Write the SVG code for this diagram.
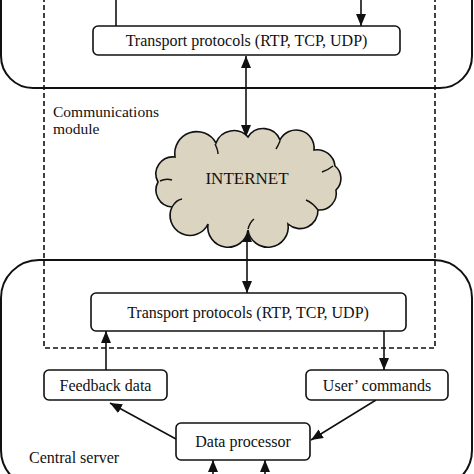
<svg xmlns="http://www.w3.org/2000/svg" width="474" height="474" viewBox="0 0 474 474">
<defs>
<style>
.outer{fill:none;stroke:#111;stroke-width:2}
.box{fill:#fff;stroke:#111;stroke-width:1.6}
.dash{fill:none;stroke:#111;stroke-width:1.6;stroke-dasharray:5 3}
.ln{fill:none;stroke:#111;stroke-width:1.6}
.t{font-family:"Liberation Serif","Times New Roman",serif;font-size:16px;fill:#111}
.c{text-anchor:middle}
</style>
<marker id="ah" viewBox="0 0 12 10" refX="12" refY="5" markerWidth="12" markerHeight="10" markerUnits="userSpaceOnUse" orient="auto-start-reverse">
<path d="M0,0 L12,5 L0,10 Z" fill="#111"/>
</marker>
</defs>
<rect width="474" height="474" fill="#fff"/>
<g id="client-frame"><rect class="outer" x="1" y="-120" width="471" height="208" rx="32"/></g>
<g id="server-frame"><rect class="outer" x="1" y="260" width="471" height="228" rx="38"/>
<text class="t" x="29" y="463">Central server</text></g>
<g id="communications-module"><rect class="dash" x="44" y="-20" width="391" height="368"/>
<text class="t" x="53" y="117" style="font-size:15.5px">Communications</text>
<text class="t" x="53" y="134" style="font-size:15.5px">module</text></g>
<g id="connectors">
<line class="ln" x1="116" y1="0" x2="116" y2="26"/>
<line class="ln" x1="361" y1="0" x2="361" y2="26" marker-end="url(#ah)"/>
<line class="ln" x1="246" y1="56" x2="246" y2="137" marker-start="url(#ah)" marker-end="url(#ah)"/>
<line class="ln" x1="247" y1="230" x2="247" y2="293" marker-start="url(#ah)" marker-end="url(#ah)"/>
<line class="ln" x1="106" y1="370" x2="106" y2="331" marker-end="url(#ah)"/>
<line class="ln" x1="384" y1="331" x2="384" y2="370" marker-end="url(#ah)"/>
<line class="ln" x1="176" y1="439" x2="110" y2="403" marker-end="url(#ah)"/>
<line class="ln" x1="376" y1="400" x2="311" y2="440" marker-end="url(#ah)"/>
<line class="ln" x1="213" y1="474" x2="213" y2="460" marker-end="url(#ah)"/>
<line class="ln" x1="265" y1="474" x2="265" y2="460" marker-end="url(#ah)"/>
</g>
<g id="transport-top"><rect class="box" x="93" y="26" width="307" height="29" rx="5"/>
<text class="t c" x="246.5" y="46">Transport protocols (RTP, TCP, UDP)</text></g>
<g id="internet">
<path d="M172,207 A17,17 0 0 1 158,182 A17,17 0 0 1 175,157 A22,22 0 0 1 216,143 A19,19 0 0 1 248,137 A18,18 0 0 1 280,140 A18,18 0 0 1 314,150 A18,18 0 0 1 335,166 A16,16 0 0 1 336,190 A17,17 0 0 1 318,210 A18,18 0 0 1 288,224 A20,20 0 0 1 248,230 A20,20 0 0 1 208,224 A18,18 0 0 1 172,207 Z" fill="#dad4c1" stroke="#111" stroke-width="1.6"/>
<path d="M172,207 Q176,200 182,199 M160,181 Q166,178 172,180 M215,144 Q218,150 218,154 M280,141 Q278,146 276,149 M333,166 Q328,170 322,172 M318,210 Q313,203 306,200 M248,229 Q250,222 254,219" fill="none" stroke="#111" stroke-width="1.4"/>
<text class="t c" x="247" y="184" style="font-size:17px">INTERNET</text></g>
<g id="transport-bottom"><rect class="box" x="91" y="293" width="315" height="38" rx="5"/>
<text class="t c" x="248" y="318">Transport protocols (RTP, TCP, UDP)</text></g>
<g id="feedback-data"><rect class="box" x="44" y="370" width="123" height="30" rx="5"/>
<text class="t c" x="105.5" y="391">Feedback data</text></g>
<g id="user-commands"><rect class="box" x="306" y="370" width="142" height="30" rx="5"/>
<text class="t c" x="377" y="391">User’ commands</text></g>
<g id="data-processor"><rect class="box" x="176" y="423" width="134" height="37" rx="5"/>
<text class="t c" x="243" y="447">Data processor</text></g>
</svg>
